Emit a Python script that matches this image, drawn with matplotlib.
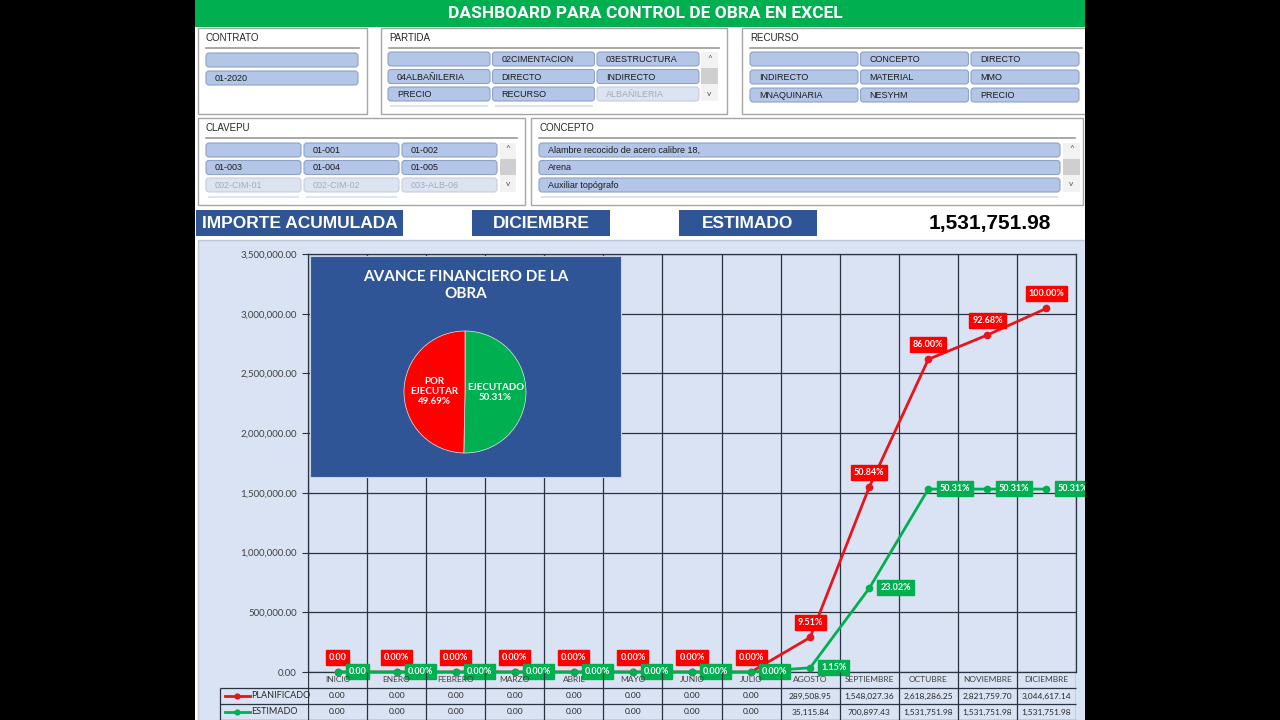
import numpy as np
import matplotlib.pyplot as plt
from matplotlib.patches import Rectangle, FancyBboxPatch
from matplotlib.ticker import FuncFormatter, MultipleLocator

plt.rcParams['font.family'] = ['Lato', 'DejaVu Sans']
NARROW = ['Liberation Sans Narrow', 'Liberation Sans', 'DejaVu Sans']
CONDENSED = ['DejaVu Sans Condensed', 'Roboto', 'DejaVu Sans']

# ---- data ----
meses = ['INICIO', 'ENERO', 'FEBRERO', 'MARZO', 'ABRIL', 'MAYO', 'JUNIO',
         'JULIO', 'AGOSTO', 'SEPTIEMBRE', 'OCTUBRE', 'NOVIEMBRE', 'DICIEMBRE']
planificado = [0.00, 0.00, 0.00, 0.00, 0.00, 0.00, 0.00, 0.00,
               289508.95, 1548027.36, 2618286.25, 2821759.70, 3044617.14]
estimado = [0.00, 0.00, 0.00, 0.00, 0.00, 0.00, 0.00, 0.00,
            35115.84, 700897.43, 1531751.98, 1531751.98, 1531751.98]
plan_pct = ['0.00', '0.00%', '0.00%', '0.00%', '0.00%', '0.00%', '0.00%',
            '0.00%', '9.51%', '50.84%', '86.00%', '92.68%', '100.00%']
est_pct = ['0.00', '0.00%', '0.00%', '0.00%', '0.00%', '0.00%', '0.00%',
           '0.00%', '1.15%', '23.02%', '50.31%', '50.31%', '50.31%']
pie_names = ['EJECUTADO', 'POR\nEJECUTAR']
pie_vals = [50.31, 49.69]

contrato_items = ['', '01-2020']
partida_items = ['', '02CIMENTACION', '03ESTRUCTURA', '04ALBAÑILERIA', 'DIRECTO',
                 'INDIRECTO', 'PRECIO', 'RECURSO', 'ALBAÑILERIA']
recurso_items = ['', 'CONCEPTO', 'DIRECTO', 'INDIRECTO', 'MATERIAL', 'MMO',
                 'MNAQUINARIA', 'NESYHM', 'PRECIO']
clavepu_items = ['', '01-001', '01-002', '01-003', '01-004', '01-005',
                 '002-CIM-01', '002-CIM-02', '003-ALB-06']
concepto_items = ['Alambre recocido de acero calibre 18,', 'Arena', 'Auxiliar topógrafo']

RED = '#FF0000'
LINE_RED = '#E8141B'
GREEN = '#00B050'
NAVY = '#2F5597'
CHART_BG = '#DAE3F3'
GRID = '#2A3340'

W, H = 1280, 720


def box(x0, y0, x1, y1):
    return [x0 / W, 1 - y1 / H, (x1 - x0) / W, (y1 - y0) / H]


fig = plt.figure(figsize=(12.8, 7.2), dpi=100, facecolor='black')

# background canvas in pixel units
bg = fig.add_axes([0, 0, 1, 1])
bg.set_xlim(0, W)
bg.set_ylim(H, 0)
bg.axis('off')

bg.add_patch(Rectangle((195, 0), 890, 720, fc='white', ec='none'))
bg.add_patch(Rectangle((195, 0), 890, 27, fc=GREEN, ec='none'))
bg.text(645, 14, 'DASHBOARD PARA CONTROL DE OBRA EN EXCEL', color='white',
        fontsize=12.5, fontweight='bold', ha='center', va='center', family=CONDENSED)


def slicer(title, x0, y0, x1, y1, items, ncols, bx0, bw, hstep, by0, vstep,
           disabled=(), scroll=None, peek=False):
    bg.add_patch(Rectangle((x0, y0), x1 - x0, y1 - y0, fc='white', ec='#A6A6A6', lw=1))
    bg.text(x0 + 8, y0 + 10, title, fontsize=7, color='#262626', va='center', family=NARROW)
    bg.plot([x0 + 8, x1 - 8], [y0 + 20, y0 + 20], color='#9A9A9A', lw=1.2)
    bh = 14
    for k, it in enumerate(items):
        r, c = divmod(k, ncols)
        bx = bx0 + c * hstep
        by = by0 + r * vstep
        dis = it in disabled
        bg.add_patch(FancyBboxPatch((bx, by), bw, bh,
                                    boxstyle='round,pad=0,rounding_size=3',
                                    fc='#DCE3F1' if dis else '#B4C6E7',
                                    ec='#C5CEDF' if dis else '#8EA2C6', lw=0.8))
        bg.text(bx + 9, by + bh / 2 + 0.5, it, fontsize=6.5, va='center',
                color='#A3AABA' if dis else '#1A1A1A', family=NARROW)
    if peek:
        nrows = (len(items) + ncols - 1) // ncols
        by = by0 + nrows * vstep
        for c in range(min(ncols, 2)):
            bg.add_patch(Rectangle((bx0 + c * hstep + 2, by), bw - 4, 2.5,
                                   fc='#DCE3F1', ec='none'))
    if scroll is not None:
        sx0, sx1 = scroll
        bg.add_patch(Rectangle((sx0, by0), sx1 - sx0, 2 * vstep + bh, fc='#F2F2F2', ec='none'))
        bg.add_patch(Rectangle((sx0, by0 + vstep - 2), sx1 - sx0, bh + 2, fc='#CFCFCF', ec='none'))
        bg.text((sx0 + sx1) / 2, by0 + 6, '^', fontsize=6, ha='center', va='center', color='#555555')
        bg.text((sx0 + sx1) / 2, by0 + 2 * vstep + 6, 'v', fontsize=6, ha='center', va='center', color='#555555')


slicer('CONTRATO', 198, 28, 367, 114, contrato_items, 1, 206, 152, 0, 53, 18)
slicer('PARTIDA', 381, 28, 727, 114, partida_items, 3, 388, 102, 104.5, 52, 17.5,
       disabled=('ALBAÑILERIA',), scroll=(701, 718), peek=True)
slicer('RECURSO', 742, 28, 1090, 114, recurso_items, 3, 750, 108, 110.5, 52, 18)
slicer('CLAVEPU', 198, 118, 525, 205, clavepu_items, 3, 206, 95, 98, 143, 17.5,
       disabled=('002-CIM-01', '002-CIM-02', '003-ALB-06'), scroll=(500, 516), peek=True)
slicer('CONCEPTO', 531, 118, 1083, 205, concepto_items, 1, 539, 521, 0, 143, 17.5,
       scroll=(1063, 1080), peek=True)

# header labels row
for (x0, x1), txt in [((196, 403), 'IMPORTE ACUMULADA'), ((472, 610), meses[-1]),
                      ((679, 817), 'ESTIMADO')]:
    bg.add_patch(Rectangle((x0, 210), x1 - x0, 26, fc=NAVY, ec='none'))
    bg.text((x0 + x1) / 2, 223.5, txt, color='white', fontsize=12.5, fontweight='bold',
            ha='center', va='center', family=['Liberation Sans', 'DejaVu Sans'])
bg.text(990, 224, f'{estimado[-1]:,.2f}', color='black', fontsize=15, fontweight='bold',
        ha='center', va='center', family=['Liberation Sans', 'DejaVu Sans'])

# chart area
bg.add_patch(Rectangle((198, 240), 890, 482, fc=CHART_BG, ec='#C0C8D8', lw=1))

# ---- line chart ----
x = np.arange(len(meses))
ax = fig.add_axes(box(308, 254, 1076, 672))
ax.set_facecolor(CHART_BG)
ax.set_xlim(-0.5, len(meses) - 0.5)
ax.set_ylim(0, 3500000)
ax.yaxis.set_major_locator(MultipleLocator(500000))
ax.yaxis.set_major_formatter(FuncFormatter(lambda v, p: f'{v:,.2f}'))
ax.set_xticks([])
ax.set_xticks(np.arange(-0.5, len(meses), 1), minor=True)
ax.tick_params(axis='x', which='both', length=0, labelbottom=False)
ax.tick_params(axis='y', length=4, color=GRID, labelsize=7, labelcolor='#404040', pad=4)
ax.grid(axis='y', which='major', color=GRID, lw=0.9)
ax.grid(axis='x', which='minor', color=GRID, lw=0.9)
for s in ax.spines.values():
    s.set_color(GRID)
    s.set_linewidth(0.9)

ax.plot(x, planificado, color=LINE_RED, lw=2, marker='o', ms=4.5, zorder=3, clip_on=False)
ax.plot(x, estimado, color=GREEN, lw=2, marker='o', ms=4.5, zorder=3, clip_on=False)

for xi, yi, lab in zip(x, planificado, plan_pct):
    ax.annotate(lab, (xi, yi), xytext=(0, 10.5), textcoords='offset points',
                ha='center', va='center', color='white', fontsize=6.5, fontweight='bold',
                bbox=dict(boxstyle='square,pad=0.32', fc=RED, ec=RED), zorder=4,
                annotation_clip=False)
for xi, yi, lab in zip(x, estimado, est_pct):
    ax.annotate(lab, (xi, yi), xytext=(8, 0.5), textcoords='offset points',
                ha='left', va='center', color='white', fontsize=6.5, fontweight='bold',
                bbox=dict(boxstyle='square,pad=0.32', fc=GREEN, ec=GREEN), zorder=5,
                annotation_clip=False)

# ---- data table under the chart ----
tab = fig.add_axes(box(308, 672, 1076, 720))
tab.set_xlim(-0.5, len(meses) - 0.5)
tab.set_ylim(3, 0)
tab.axis('off')
xl = -0.5 - 88 / 59.08
tab.vlines(np.arange(-0.5, len(meses), 1), 0, 3, color=GRID, lw=0.9)
tab.hlines([1, 2, 3], xl, len(meses) - 0.5, color=GRID, lw=0.9, clip_on=False)
tab.vlines([xl], 1, 3, color=GRID, lw=0.9, clip_on=False)
for i, m in enumerate(meses):
    tab.text(i, 0.5, m, ha='center', va='center', fontsize=6, color='#404040')
    tab.text(i, 1.5, f'{planificado[i]:,.2f}', ha='center', va='center', fontsize=6, color='#262626')
    tab.text(i, 2.5, f'{estimado[i]:,.2f}', ha='center', va='center', fontsize=6, color='#262626')
for row, name, col in [(1.5, 'PLANIFICADO', LINE_RED), (2.5, 'ESTIMADO', GREEN)]:
    tab.plot([xl + 0.08, xl + 0.5], [row, row], color=col, lw=2, clip_on=False)
    tab.plot([xl + 0.29], [row], color=col, marker='o', ms=3.5, clip_on=False)
    tab.text(xl + 0.53, row, name, ha='left', va='center', fontsize=6.5, color='#262626')

# ---- pie box ----
pb = fig.add_axes(box(310, 256, 621, 477))
R = 61
wedges, texts, autotexts = pb.pie(pie_vals, colors=[GREEN, RED], startangle=90,
                                  counterclock=False, autopct='%.2f%%', pctdistance=0.5,
                                  frame=True,
                                  wedgeprops=dict(ec='#E8E8E8', lw=0.5),
                                  textprops=dict(color='white', fontsize=7, fontweight='bold'))
for t, n in zip(autotexts, pie_names):
    t.set_text(n + '\n' + t.get_text())
    t.set_linespacing(1.15)
pb.set_aspect('auto')
pb.set_xlim(-155 / R, 156 / R)
pb.set_ylim(-85 / R, 136 / R)
pb.set_xticks([])
pb.set_yticks([])
pb.set_facecolor(NAVY)
for s in pb.spines.values():
    s.set_color('#C9D3E6')
    s.set_linewidth(0.8)
pb.text(0.5, 0.866, 'AVANCE FINANCIERO DE LA\nOBRA', transform=pb.transAxes,
        ha='center', va='center', color='white', fontsize=11, fontweight='bold',
        linespacing=1.25)

# black margin on the right covers anything spilling past the sheet
fig.add_artist(Rectangle((1085 / W, 0), 1 - 1085 / W, 1, transform=fig.transFigure,
                         fc='black', ec='none', zorder=10))

fig.savefig('out.png', dpi=100, facecolor='black')
